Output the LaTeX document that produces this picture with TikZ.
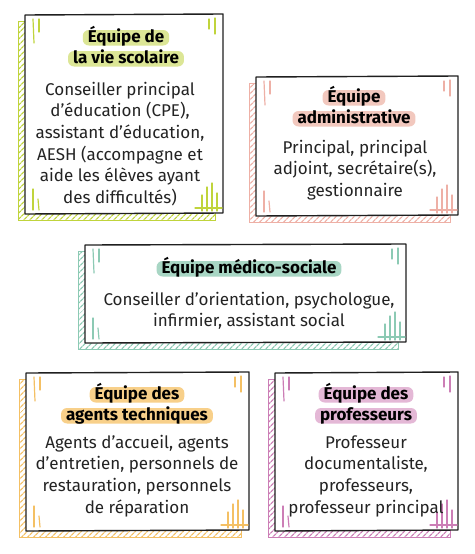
\documentclass[tikz,border=0pt]{standalone}
\usepackage{fontspec}
\setmainfont{Fira Sans}
\usetikzlibrary{patterns.meta}
\definecolor{cgreen}{RGB}{192,212,60}
\definecolor{hgreen}{RGB}{220,230,150}
\definecolor{cpink}{RGB}{238,176,166}
\definecolor{hpink}{RGB}{242,200,190}
\definecolor{cteal}{RGB}{140,202,180}
\definecolor{hteal}{RGB}{168,214,196}
\definecolor{corange}{RGB}{244,192,100}
\definecolor{horange}{RGB}{248,208,138}
\definecolor{cpurple}{RGB}{204,126,182}
\definecolor{hpurple}{RGB}{228,184,214}
\definecolor{txt}{RGB}{35,35,35}
\tikzset{
  frame/.style={fill=white, draw=black!88, line width=1.4pt, line join=round},
  ttl/.style={font=\fontsize{17}{20}\selectfont\bfseries, text=black, text height=10.5pt, text depth=2pt, inner xsep=5pt, inner ysep=1.5pt, rounded corners=6pt, anchor=base},
  bodytxt/.style={font=\fontsize{17}{20}\selectfont, text=txt, inner sep=0pt, anchor=base},
  sketchtick/.style={line width=1.2pt, line cap=round}
}
% #1 x0, #2 y0, #3 x1, #4 y1, #5 colour
\newcommand\skframe[5]{%
  \draw[#5, line width=1pt, pattern={Lines[angle=45, distance=4pt, line width=1.3pt]}, pattern color=#5] (#1-7,#2+6) rectangle (#3-7,#4+7);
  \draw[frame] (#1,#2) -- (#3+1,#2-1) -- (#3+1,#4) -- (#1,#4+1) -- cycle;
  \draw[#5, sketchtick] (#1+8,#2+4) -- (#1+9,#2+28);
  \draw[#5, sketchtick] (#1+14,#2+4) -- (#1+14,#2+17);
  \draw[#5, sketchtick] (#3-13,#2+4) -- (#3-13,#2+14);
  \draw[#5, sketchtick] (#3-7,#2+3) -- (#3-7,#2+19);
  \draw[#5, sketchtick] (#1+8,#4-3) -- (#1+8,#4-24);
  \draw[#5, sketchtick] (#1+14,#4-3) -- (#1+13,#4-14);
  \draw[#5, sketchtick] (#3-20,#4-2) -- (#3-20,#4-18);
  \draw[#5, sketchtick] (#3-15,#4-2) -- (#3-15,#4-26);
  \draw[#5, sketchtick] (#3-10,#4-2) -- (#3-10,#4-30);
  \draw[#5, sketchtick] (#3-5,#4-2) -- (#3-5,#4-20);
  \draw[#5, sketchtick] (#3-27,#4-5) -- (#3,#4-5);
}
\newcommand\bodylines[4]{%
  \foreach \t [count=\i] in {#4} {\node[bodytxt] (#1-\i) at (#2, #3+21.7*\i-21.7) {\t};}
}
\begin{document}
\begin{tikzpicture}[x=1pt, y=-1pt]
\useasboundingbox[fill=white] (0,0) rectangle (474,554);

% Vie scolaire
\skframe{25}{15}{222}{213}{cgreen}
\node[ttl, fill=hgreen] (t1a) at (126,42) {Équipe de};
\node[ttl, fill=hgreen] (t1b) at (126,63) {la vie scolaire};
\bodylines{b1}{120}{95}{{Conseiller principal}, {d’éducation (CPE),}, {assistant d’éducation,}, {AESH (accompagne et}, {aide les élèves ayant}, {des difficultés)}}

% Administrative
\skframe{256}{77}{457}{215}{cpink}
\node[ttl, fill=hpink] (t2a) at (354,102) {Équipe};
\node[ttl, fill=hpink] (t2b) at (354,123) {administrative};
\bodylines{b2}{355}{153}{{Principal, principal}, {adjoint, secrétaire(s),}, {gestionnaire}}

% Medico-sociale
\skframe{85}{245}{405}{342}{cteal}
\node[ttl, fill=hteal] (t3a) at (249,273) {Équipe médico-sociale};
\bodylines{b3}{249}{305}{{Conseiller d’orientation, psychologue,}, {infirmier, assistant social}}

% Agents techniques
\skframe{26}{373}{248}{530}{corange}
\node[ttl, fill=horange] (t4a) at (137,399) {Équipe des};
\node[ttl, fill=horange] (t4b) at (137,420) {agents techniques};
\bodylines{b4}{137}{448}{{Agents d’accueil, agents}, {d’entretien, personnels de}, {restauration, personnels}, {de réparation}}

% Professeurs
\skframe{275}{373}{457}{530}{cpurple}
\node[ttl, fill=hpurple] (t5a) at (366,399) {Équipe des};
\node[ttl, fill=hpurple] (t5b) at (366,420) {professeurs};
\bodylines{b5}{366}{448}{{Professeur}, {documentaliste,}, {professeurs,}, {professeur principal}}
\end{tikzpicture}
\end{document}
